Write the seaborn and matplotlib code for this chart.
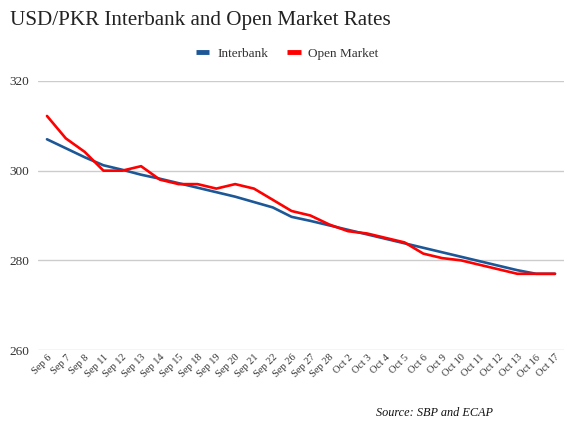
import pandas as pd
import seaborn as sns
import matplotlib.pyplot as plt
from matplotlib.lines import Line2D

dates = ['Sep 6', 'Sep 7', 'Sep 8', 'Sep 11', 'Sep 12', 'Sep 13', 'Sep 14', 'Sep 15',
         'Sep 18', 'Sep 19', 'Sep 20', 'Sep 21', 'Sep 22', 'Sep 26', 'Sep 27', 'Sep 28',
         'Oct 2', 'Oct 3', 'Oct 4', 'Oct 5', 'Oct 6', 'Oct 9', 'Oct 10', 'Oct 11',
         'Oct 12', 'Oct 13', 'Oct 16', 'Oct 17']
interbank = [307.0, 305.0, 303.0, 301.2, 300.2, 299.1, 298.2, 297.2,
             296.2, 295.2, 294.2, 293.0, 291.8, 289.7, 288.8, 287.8,
             286.8, 285.8, 284.8, 283.8, 282.8, 281.8, 280.8, 279.8,
             278.8, 277.8, 277.0, 277.0]
open_market = [312.2, 307.2, 304.2, 300.0, 300.0, 301.0, 298.0, 297.0,
               297.0, 296.0, 297.0, 296.0, 293.5, 291.0, 290.0, 288.0,
               286.5, 286.0, 285.0, 284.0, 281.5, 280.5, 280.0, 279.0,
               278.0, 277.0, 277.0, 277.0]

df = pd.DataFrame({'date': dates * 2,
                   'rate': interbank + open_market,
                   'series': ['Interbank'] * len(dates) + ['Open Market'] * len(dates)})
df['pos'] = list(range(len(dates))) * 2

sns.set_style('white')
plt.rcParams['font.family'] = ['Liberation Serif', 'DejaVu Serif']

fig = plt.figure(figsize=(5.72, 4.24), dpi=100)
ax = fig.add_axes([0.0657, 0.1745, 0.921, 0.6345])

sns.lineplot(data=df, x='pos', y='rate', hue='series',
             palette={'Interbank': '#1c5797', 'Open Market': '#ff0000'},
             linewidth=1.9, ax=ax, legend=False)

ax.set_xlim(-0.5, len(dates) - 0.5)
ax.set_ylim(260, 320)
ax.set_yticks([260, 280, 300, 320])
ax.set_xticks(range(len(dates)))
ax.set_xticklabels(dates, rotation=45, ha='right', rotation_mode='anchor', fontsize=7.5, color='#333333')
ax.tick_params(axis='y', labelsize=9.5, colors='#333333', length=0, pad=6)
ax.tick_params(axis='x', length=0, pad=2)
ax.yaxis.grid(True, color='#cccccc', linewidth=1)
ax.set_axisbelow(True)
for s in ax.spines.values():
    s.set_visible(False)
ax.set_xlabel('')
ax.set_ylabel('')

fig.text(0.0175, 0.952, 'USD/PKR Interbank and Open Market Rates', fontsize=15.2,
         color='#222222', va='center', ha='left')

# legend
handles = [Line2D([], [], color='#1c5797', linewidth=3.5, solid_capstyle='butt'),
           Line2D([], [], color='#ff0000', linewidth=3.5, solid_capstyle='butt')]
fig.legend(handles, ['Interbank', 'Open Market'], loc='center', bbox_to_anchor=(0.502, 0.873),
           ncol=2, frameon=False, fontsize=9.5, handlelength=1.05, columnspacing=1.4,
           handletextpad=0.6, labelcolor='#333333')

fig.text(0.862, 0.027, 'Source: SBP and ECAP', fontsize=8.8, style='italic',
         color='#111111', ha='right', va='center')

fig.savefig('out.png', dpi=100)
